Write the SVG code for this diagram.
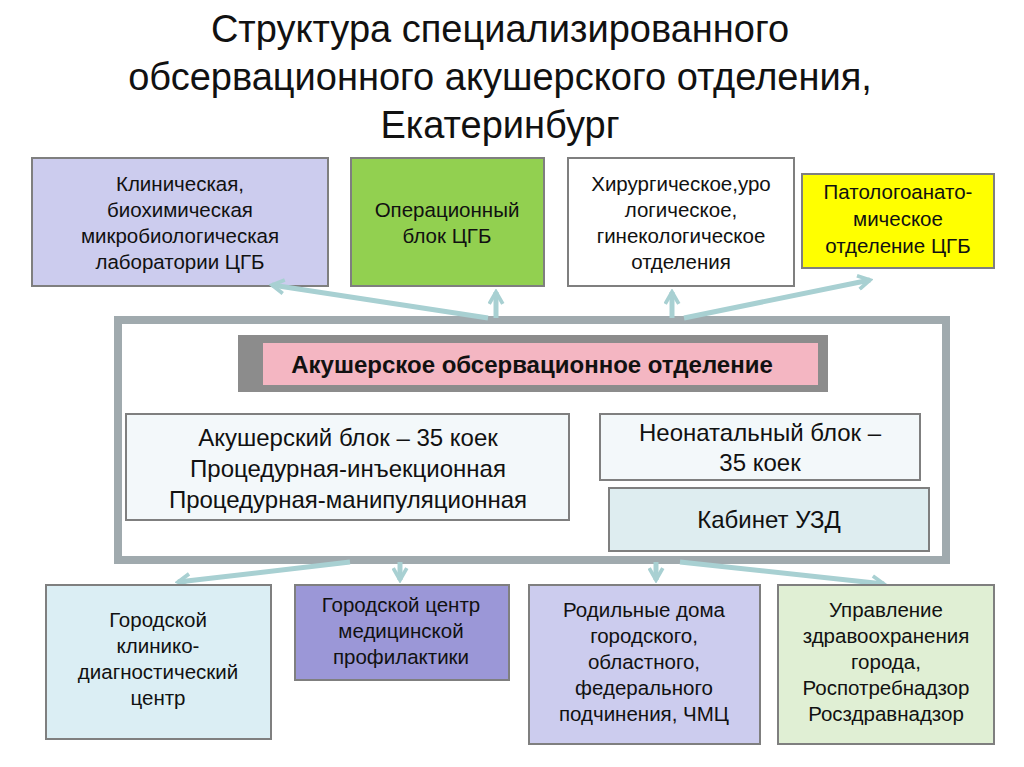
<svg xmlns="http://www.w3.org/2000/svg" width="1024" height="767" viewBox="0 0 1024 767">
<style>
text{font-family:"Liberation Sans",Arial,sans-serif;fill:#111;text-anchor:middle}
.t{font-size:38px}
.n{font-size:20.5px}
.m{font-size:24px}
.box{stroke:#7f7f7f;stroke-width:2}
.c{stroke:#a8d0d2;stroke-width:5;fill:none;marker-end:url(#a)}
</style>
<defs><marker id="a" viewBox="0 0 10 10" refX="8" refY="5" markerWidth="3.4" markerHeight="3.4" orient="auto"><path d="M1,1 L8,5 L1,9" fill="none" stroke="#a8d0d2" stroke-width="2.2"/></marker></defs>
<rect width="1024" height="767" fill="#fff"/>
<g id="title"><text class="t" x="500" y="42">Структура специализированного</text><text class="t" x="500" y="90">обсервационного акушерского отделения,</text><text class="t" x="500" y="138">Екатеринбург</text></g>
<g id="n1"><rect class="box" x="32" y="158" width="296" height="128" fill="#ccccee"/><text class="n" x="180" y="191">Клиническая,</text><text class="n" x="180" y="217">биохимическая</text><text class="n" x="180" y="243">микробиологическая</text><text class="n" x="180" y="269">лаборатории ЦГБ</text></g>
<g id="n2"><rect class="box" x="351" y="158" width="193" height="128" fill="#92d050"/><text class="n" x="447" y="217">Операционный</text><text class="n" x="447" y="243">блок ЦГБ</text></g>
<g id="n3"><rect class="box" x="568" y="158" width="226" height="128" fill="#fff"/><text class="n" x="681" y="191">Хирургическое,уро</text><text class="n" x="681" y="217">логическое,</text><text class="n" x="681" y="243">гинекологическое</text><text class="n" x="681" y="269">отделения</text></g>
<g id="n4"><rect class="box" x="802" y="174" width="192" height="94" fill="#ffff00"/><text class="n" x="898" y="199">Патологоанато-</text><text class="n" x="898" y="226">мическое</text><text class="n" x="898" y="253">отделение ЦГБ</text></g>
<g id="main"><rect x="118" y="320" width="828" height="240" fill="#fff" stroke="#a0aaae" stroke-width="8"/>
<rect x="238" y="335" width="590" height="57" fill="#8c8c8c"/><rect x="263" y="343" width="555" height="42" fill="#f4b6c2"/><text x="532" y="373" font-size="24" font-weight="bold">Акушерское обсервационное отделение</text>
<rect class="box" x="126" y="414" width="443" height="106" fill="#f3f8fa" stroke="#a8b0b4"/><text class="m" x="348" y="446">Акушерский блок – 35 коек</text><text class="m" x="348" y="477">Процедурная-инъекционная</text><text class="m" x="348" y="508">Процедурная-манипуляционная</text>
<rect class="box" x="600" y="414" width="320" height="66" fill="#f3f8fa" stroke="#a8b0b4"/><text class="m" x="760" y="441">Неонатальный  блок –</text><text class="m" x="760" y="471">35 коек</text>
<rect class="box" x="609" y="488" width="320" height="63" fill="#deedf0" stroke="#a8b0b4"/><text class="m" x="769" y="528">Кабинет УЗД</text></g>
<g id="connectors">
<path class="c" d="M488,318 L272,285"/><path class="c" d="M496,318 L496,292"/><path class="c" d="M672,318 L672,292"/><path class="c" d="M684,318 L870,280"/>
<path class="c" d="M350,562 L178,582"/><path class="c" d="M400,562 L400,580"/><path class="c" d="M656,562 L656,580"/><path class="c" d="M680,562 L884,584"/>
</g>
<g id="b1"><rect class="box" x="46" y="585" width="225" height="154" fill="#dbeef4"/><text class="n" x="158" y="627">Городской</text><text class="n" x="158" y="653">клинико-</text><text class="n" x="158" y="679">диагностический</text><text class="n" x="158" y="705">центр</text></g>
<g id="b2"><rect class="box" x="295" y="585" width="214" height="95" fill="#9b97d7"/><text class="n" x="401" y="612">Городской центр</text><text class="n" x="401" y="638">медицинской</text><text class="n" x="401" y="664">профилактики</text></g>
<g id="b3"><rect class="box" x="529" y="585" width="231" height="159" fill="#ccccee"/><text class="n" x="644" y="617">Родильные дома</text><text class="n" x="644" y="643">городского,</text><text class="n" x="644" y="669">областного,</text><text class="n" x="644" y="695">федерального</text><text class="n" x="644" y="721">подчинения, ЧМЦ</text></g>
<g id="b4"><rect class="box" x="778" y="585" width="216" height="159" fill="#e0efd4"/><text class="n" x="886" y="617">Управление</text><text class="n" x="886" y="643">здравоохранения</text><text class="n" x="886" y="669">города,</text><text class="n" x="886" y="695">Роспотребнадзор</text><text class="n" x="886" y="721">Росздравнадзор</text></g>
</svg>
